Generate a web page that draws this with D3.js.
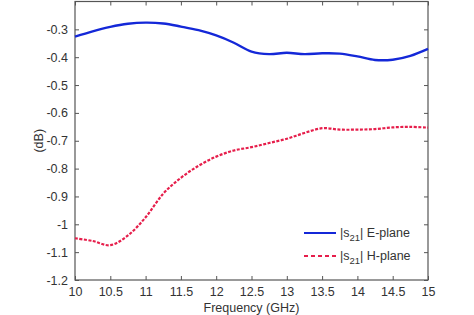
<!DOCTYPE html>
<html><head><meta charset="utf-8">
<script src="https://cdn.jsdelivr.net/npm/d3@7"></script>
<style>body{margin:0;background:#fff}svg{display:block}text{font-family:"Liberation Sans",Arial,sans-serif}</style>
</head><body><svg id="c" width="474" height="315"></svg>
<script>
const freqE = [10,10.25,10.5,10.75,11,11.25,11.5,11.75,12,12.25,12.5,12.75,13,13.25,13.5,13.75,14,14.25,14.5,14.75,15];
const sE = [-0.326,-0.307,-0.291,-0.28,-0.276,-0.279,-0.29,-0.303,-0.322,-0.348,-0.38,-0.389,-0.384,-0.389,-0.386,-0.387,-0.397,-0.41,-0.409,-0.395,-0.37];
const freqH = [10,10.25,10.5,10.75,11,11.25,11.5,11.75,12,12.25,12.5,12.75,13,13.25,13.5,13.75,14,14.25,14.5,14.75,15];
const sH = [-1.05,-1.06,-1.075,-1.04,-0.975,-0.89,-0.833,-0.79,-0.757,-0.735,-0.723,-0.708,-0.693,-0.672,-0.655,-0.66,-0.66,-0.658,-0.652,-0.65,-0.653];
const xTicks = [10,10.5,11,11.5,12,12.5,13,13.5,14,14.5,15];
const yTicks = [-1.2,-1.1,-1,-0.9,-0.8,-0.7,-0.6,-0.5,-0.4,-0.3];
const legendLabels = ["E-plane","H-plane"];

const svg = d3.select("#c");
const L=75,R=428,T=1.5,B=280;
const x = d3.scaleLinear().domain([10,15]).range([L,R]);
const y = d3.scaleLinear().domain([-1.2,-0.2]).range([B,T]);
const axisCol="#555", txtCol="#333";

svg.append("rect").attr("x",L).attr("y",T).attr("width",R-L).attr("height",B-T).attr("fill","none").attr("stroke",axisCol).attr("stroke-width",1.2);

const fmt = d=>String(d);
const gx = svg.append("g").attr("transform",`translate(0,${B})`).call(d3.axisBottom(x).tickValues(xTicks).tickFormat(fmt).tickSize(-4).tickPadding(7));
const gxt = svg.append("g").attr("transform",`translate(0,${T})`).call(d3.axisTop(x).tickValues(xTicks).tickFormat("").tickSize(-4));
const gy = svg.append("g").attr("transform",`translate(${L},0)`).call(d3.axisLeft(y).tickValues(yTicks).tickFormat(fmt).tickSize(-4).tickPadding(7));
const gyr = svg.append("g").attr("transform",`translate(${R},0)`).call(d3.axisRight(y).tickValues(yTicks).tickFormat("").tickSize(-4));
[gx,gxt,gy,gyr].forEach(g=>{g.select(".domain").remove();g.selectAll(".tick line").attr("stroke",axisCol);g.selectAll("text").attr("fill",txtCol).attr("font-size",12.5);});

svg.append("text").attr("x",(L+R)/2).attr("y",311.5).attr("text-anchor","middle").attr("font-size",12.5).attr("fill",txtCol).text("Frequency (GHz)");
svg.append("text").attr("transform",`translate(43,${(T+B)/2}) rotate(-90)`).attr("text-anchor","middle").attr("font-size",12.5).attr("fill",txtCol).text("(dB)");

const line = d3.line().x(d=>x(d[0])).y(d=>y(d[1])).curve(d3.curveCatmullRom.alpha(0.5));
const blue="#1428d8", red="#e61e4b";
svg.append("path").attr("d",line(freqE.map((f,i)=>[f,sE[i]]))).attr("fill","none").attr("stroke",blue).attr("stroke-width",2.4);
svg.append("path").attr("d",line(freqH.map((f,i)=>[f,sH[i]]))).attr("fill","none").attr("stroke",red).attr("stroke-width",2.2).attr("stroke-dasharray","3,1.5");

const leg=[{c:blue,d:null,yy:233},{c:red,d:"4,3",yy:256}];
leg.forEach((l,i)=>{
  svg.append("line").attr("x1",304).attr("x2",336).attr("y1",l.yy).attr("y2",l.yy).attr("stroke",l.c).attr("stroke-width",2).attr("stroke-dasharray",l.d);
  const t=svg.append("text").attr("x",340).attr("y",l.yy+4).attr("font-size",12.5).attr("fill",txtCol);
  t.append("tspan").text("|s");
  t.append("tspan").attr("font-size",9.5).attr("dy",4).text("21");
  t.append("tspan").attr("dy",-4).text("| "+legendLabels[i]);
});
</script></body></html>
